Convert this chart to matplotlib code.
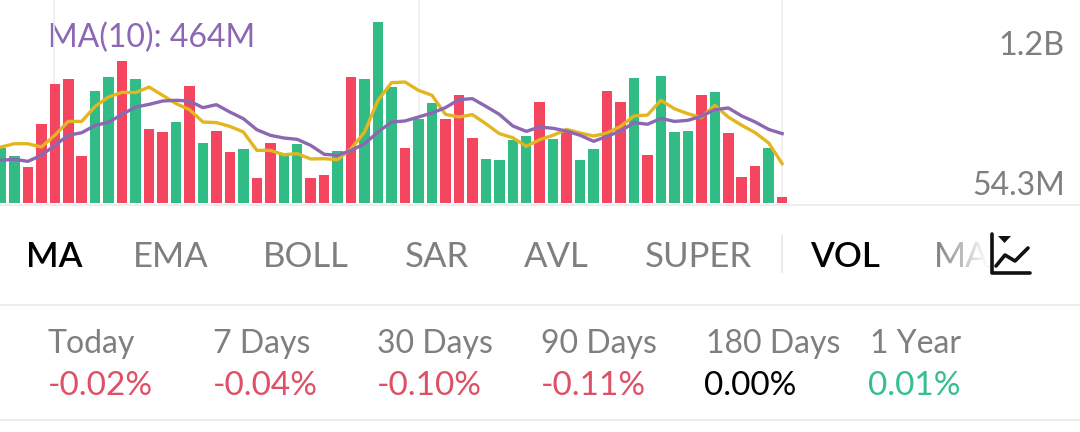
import numpy as np
import matplotlib
matplotlib.use("Agg")
import matplotlib.pyplot as plt
from matplotlib.colors import LinearSegmentedColormap

plt.rcParams['font.family'] = ['Lato', 'DejaVu Sans']

# Volumes in millions
volumes = [365,314,239,522,791,824,309,740,838,944,820,493,469,537,776,396,480,340,358,164,
           400,316,393,166,188,347,838,820,1198,769,365,559,663,559,714,431,294,285,415,442,
           667,422,471,283,356,743,667,831,316,840,473,480,716,738,464,172,243,367,42]
directions = list("GGRRRRRGGRGRRGRGRRGRRGGRRGRGGGRGGRRRGGGGRGRGGRRGRGGGRGRRRGR")
ma5 = [371,393,393,371,449,541,541,641,703,734,732,769,714,659,619,537,533,508,471,349,
       349,320,327,292,294,287,360,471,681,798,802,747,714,588,570,586,526,460,433,376,
       420,449,488,464,444,464,508,577,583,681,625,592,566,648,570,515,466,398,261]
ma10 = [283,290,276,316,382,449,466,515,535,588,636,654,676,681,676,632,652,603,559,486,
        449,431,422,382,323,316,349,393,471,537,544,570,597,632,685,692,641,588,511,475,
        504,495,477,449,409,442,477,533,522,561,541,548,575,619,630,577,537,488,460]
ma_label = "MA(10): 464M"
axis_labels = ["1.2B", "54.3M"]
tabs = ["MA", "EMA", "BOLL", "SAR", "AVL", "SUPER", "VOL"]
periods = ["Today", "7 Days", "30 Days", "90 Days", "180 Days", "1 Year"]
changes = ["-0.02%", "-0.04%", "-0.10%", "-0.11%", "0.00%", "0.01%"]

RED, GREEN = "#F4475F", "#31BB85"
TXT_RED, TXT_GREEN = "#DF4F66", "#35BE8F"
GRAY = "#7F7F7F"

W, H = 1080, 432
fig = plt.figure(figsize=(W/100, H/100), dpi=100, facecolor="white")

# Full-figure overlay in pixel coordinates for the surrounding app interface
ui = fig.add_axes([0, 0, 1, 1], zorder=1)
ui.set_xlim(0, W); ui.set_ylim(H, 0); ui.axis("off")

# Chart axes
ax = fig.add_axes([0, (H-203)/H, 1, 203/H], zorder=2)
ax.patch.set_alpha(0)
ax.set_xlim(-0.9/13.47, (W-0.9)/13.47)
ax.set_ylim(0, 203*6.63)
ax.axis("off")
x = np.arange(len(volumes))
for gx in (54, 419, 782):
    ax.axvline((gx-0.9)/13.47, color="#EFEFEF", lw=1.2, zorder=0)
ax.bar(x, volumes, width=0.78, color=[GREEN if d == "G" else RED for d in directions], zorder=2)
ax.plot(x, ma5, color="#E3B61F", lw=2.4, zorder=3, solid_joinstyle="round")
ax.plot(x, ma10, color="#8C67B2", lw=2.4, zorder=4, solid_joinstyle="round")

ui.text(48, 37.5, ma_label, color="#8C67B2", fontsize=23, va="center", ha="left")
ui.text(1065, 46, axis_labels[0], color=GRAY, fontsize=23.4, va="center", ha="right")
ui.text(1065, 186, axis_labels[1], color=GRAY, fontsize=23, va="center", ha="right")

for y in (204.5, 305, 420):
    ui.plot([0, W], [y, y], color="#EDEDED", lw=1.4)

# Tabs
tab_x = [54, 171, 306, 437, 556, 698, 845]
for name, tx in zip(tabs, tab_x):
    active = name in ("MA", "VOL")
    ui.text(tx, 257, name, ha="center", va="center", fontsize=25,
            color="black" if active else GRAY, fontweight="semibold" if active else "normal")
ui.plot([781.5, 781.5], [236, 272], color="#E6E6E6", lw=1.2)

# Faded tab
ui.text(934, 257, "MA", ha="left", va="center", fontsize=25, color=GRAY)
fade = LinearSegmentedColormap.from_list("fade", [(1, 1, 1, 0), (1, 1, 1, 1)])
ui.imshow(np.linspace(0, 1, 64).reshape(1, -1), extent=(936, 988, 280, 232), cmap=fade,
          aspect="auto", zorder=3)
ui.set_xlim(0, W); ui.set_ylim(H, 0)

# Chart-type icon
ui.plot([991.5, 991.5, 1030], [234, 273, 273], color="#111111", lw=2.6, zorder=5,
        solid_capstyle="round", solid_joinstyle="round")
ui.plot([996, 1005, 1015, 1028], [266, 255, 261, 248], color="#111111", lw=2.6, zorder=5,
        solid_capstyle="round", solid_joinstyle="round")
ui.fill([998, 1011, 1004.5], [236, 236, 243], color="#111111", zorder=5, lw=0)

# Period performance
period_x = [48, 213, 377, 541, 706, 870]
value_x = [48, 213, 377, 541, 704, 868]
for name, val, px, vx in zip(periods, changes, period_x, value_x):
    ui.text(px, 344, name, ha="left", va="center", fontsize=23, color=GRAY)
    col = TXT_RED if val.startswith("-") else (TXT_GREEN if val != "0.00%" else "black")
    ui.text(vx, 386, val, ha="left", va="center", fontsize=24, color=col)

fig.savefig("out.png", dpi=100)
